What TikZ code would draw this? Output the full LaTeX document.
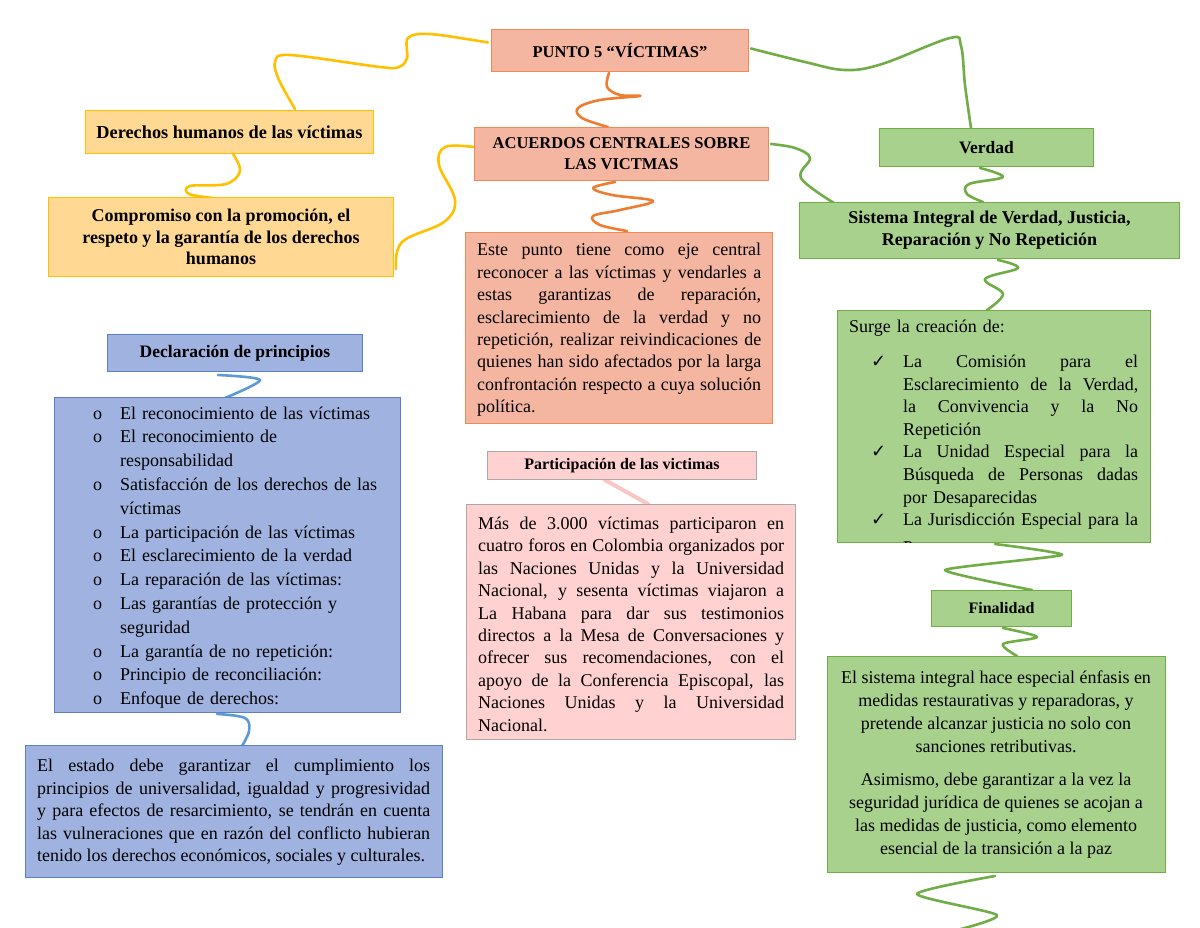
\documentclass[tikz,border=0pt]{standalone}
\usepackage{fontspec}
\setmainfont{Liberation Serif}
\newfontfamily\symf{DejaVu Sans}
\usetikzlibrary{calc}
\definecolor{salm}{HTML}{F4B6A0}
\definecolor{salmd}{HTML}{F08A55}
\definecolor{yel}{HTML}{FFD993}
\definecolor{yeld}{HTML}{FFC000}
\definecolor{grn}{HTML}{A9D18E}
\definecolor{grnd}{HTML}{70AD47}
\definecolor{blu}{HTML}{A0B2DF}
\definecolor{blud}{HTML}{5B80C8}
\definecolor{pnk}{HTML}{FFD1D1}
\definecolor{pnkd}{HTML}{A9A9A9}
\definecolor{pnkl}{HTML}{F9C6C6}
\definecolor{oran}{HTML}{ED7D31}
\definecolor{bluc}{HTML}{5B9BD5}
\newcommand\ns{\spaceskip=0pt\xspaceskip=0pt\relax}
\newcommand\jl[1]{{\ns\makebox[\hsize][s]{#1}}}
\newcommand\bfnt[2]{\fontsize{#1}{#2}\selectfont\bfseries}
\newcommand\bdy[1]{\fontsize{18}{#1}\selectfont}
\newcommand\itm{\makebox[27pt][l]{o}}
\newcommand\ind{\hspace*{27pt}}
\newcommand\ck{\makebox[30pt][l]{\hspace*{-2pt}\symf\fontsize{18}{18}\selectfont ✓}}
\newcommand\sj[1]{{\ns\makebox[235pt][s]{#1}}}
\pgfdeclarelayer{bg}
\pgfsetlayers{bg,main}
\begin{document}
\begin{tikzpicture}[x=1pt,y=-1pt,
  xbox/.style={draw, line width=1pt, inner sep=1pt, anchor=north west, align=center, text=black},
  sbox/.style={xbox, fill=salm, draw=salmd},
  ybox/.style={xbox, fill=yel, draw=yeld},
  gbox/.style={xbox, fill=grn, draw=grnd},
  bbox/.style={xbox, fill=blu, draw=blud},
  pbox/.style={xbox, fill=pnk, draw=pnkd},
  txt/.style={anchor=north west, inner sep=0pt, align=left},
  con/.style={line width=2.6pt, line cap=round, line join=round},
]
\useasboundingbox (0,0) rectangle (1200,927);

% ---- boxes ----
\node[sbox, minimum width=257pt, minimum height=42pt, font={\bfnt{16.5}{21}}] (punto) at (491,29) {PUNTO 5 “VÍCTIMAS”};
\node[sbox, minimum width=294pt, minimum height=53pt, font={\bfnt{16.5}{21}}] (acuerdos) at (474,127) {ACUERDOS CENTRALES SOBRE\\LAS VICTMAS};
\node[ybox, minimum width=288pt, minimum height=43pt, font={\bfnt{18.3}{22}}] (derechos) at (85,110) {Derechos humanos de las víctimas};
\node[ybox, minimum width=345pt, minimum height=79pt, font={\bfnt{18}{21.5}}] (compromiso) at (48,197) {Compromiso con la promoción, el\\respeto y la garantía de los derechos\\humanos};
\node[gbox, minimum width=214pt, minimum height=38pt, font={\bfnt{17.5}{21}}] (verdad) at (879,128) {Verdad};
\node[gbox, minimum width=380pt, minimum height=56pt, font={\bfnt{18}{22}}] (sistema) at (799,202) {Sistema Integral de Verdad, Justicia,\\Reparación y No Repetición};
\node[bbox, minimum width=255pt, minimum height=37pt, font={\bfnt{17.5}{21}}] (decl) at (107,334) {Declaración de principios};
\node[bbox, minimum width=346pt, minimum height=315pt] (lista) at (54,397) {};
\node[bbox, minimum width=417pt, minimum height=132pt] (estado) at (25,745) {};
\node[sbox, minimum width=307pt, minimum height=191pt] (este) at (465,232) {};
\node[pbox, minimum width=269pt, minimum height=28pt, font={\bfnt{16}{20}}] (partic) at (487,451) {Participación de las victimas};
\node[pbox, minimum width=329pt, minimum height=235pt] (mas) at (466,504) {};
\node[gbox, minimum width=313pt, minimum height=232pt] (surge) at (837,310) {};
\node[gbox, minimum width=140pt, minimum height=36pt, font={\bfnt{16}{20}}] (finalidad) at (931,590) {Finalidad};
\node[gbox, minimum width=338pt, minimum height=216pt] (elsis) at (827,656) {};

% ---- texts ----
\node[txt, text width=300pt, font={\bdy{23.8}}] (listatxt) at (93,402.3) {\strut\itm El reconocimiento de las víctimas\\
\itm El reconocimiento de\\
\ind responsabilidad\\
\itm Satisfacción de los derechos de las\\
\ind víctimas\\
\itm La participación de las víctimas\\
\itm El esclarecimiento de la verdad\\
\itm La reparación de las víctimas:\\
\itm Las garantías de protección y\\
\ind seguridad\\
\itm La garantía de no repetición:\\
\itm Principio de reconciliación:\\
\itm Enfoque de derechos:};

\node[txt, text width=393pt, font={\bdy{22.5}}] (estadotxt) at (37,756) {\ns\strut\jl{El estado debe garantizar el cumplimiento los}\\
\jl{principios de universalidad, igualdad y progresividad}\\
\jl{y para efectos de resarcimiento, se tendrán en cuenta}\\
\jl{las vulneraciones que en razón del conflicto hubieran}\\
tenido los derechos económicos, sociales y culturales.};

\node[txt, text width=284pt, font={\bdy{22.4}}] (estetxt) at (477,240) {\ns\strut\jl{Este punto tiene como eje central}\\
\jl{reconocer a las víctimas y vendarles a}\\
\jl{estas garantizas de reparación,}\\
\jl{esclarecimiento de la verdad y no}\\
\jl{repetición, realizar reivindicaciones de}\\
\jl{quienes han sido afectados por la larga}\\
\jl{confrontación respecto a cuya solución}\\
política.};

\node[txt, text width=306pt, font={\bdy{22.4}}] (mastxt) at (478,513.6) {\ns\strut\jl{Más de 3.000 víctimas participaron en}\\
\jl{cuatro foros en Colombia organizados por}\\
\jl{las Naciones Unidas y la Universidad}\\
\jl{Nacional, y sesenta víctimas viajaron a}\\
\jl{La Habana para dar sus testimonios}\\
\jl{directos a la Mesa de Conversaciones y}\\
\jl{ofrecer sus recomendaciones, con el}\\
\jl{apoyo de la Conferencia Episcopal, las}\\
\jl{Naciones Unidas y la Universidad}\\
Nacional.};

\begin{scope}
\clip (837,310) rectangle (1150,542);
\node[txt, text width=290pt, font={\bdy{22.6}}] (surgetxt) at (849,316.9) {\strut Surge la creación de:\\[12pt]
\hspace*{24pt}\ck\sj{La Comisión para el}\\
\hspace*{54pt}\sj{Esclarecimiento de la Verdad,}\\
\hspace*{54pt}\sj{la Convivencia y la No}\\
\hspace*{54pt}Repetición\\
\hspace*{24pt}\ck\sj{La Unidad Especial para la}\\
\hspace*{54pt}\sj{Búsqueda de Personas dadas}\\
\hspace*{54pt}por Desaparecidas\\
\hspace*{24pt}\ck\sj{La Jurisdicción Especial para la}\\[5pt]
\hspace*{54pt}Paz};
\end{scope}

\node[anchor=north, inner sep=0pt, align=center, font={\bdy{23}}] (elsistxt) at (996,667) {\strut El sistema integral hace especial énfasis en\\
medidas restaurativas y reparadoras, y\\
pretende alcanzar justicia no solo con\\
sanciones retributivas.\\[10pt]
Asimismo, debe garantizar a la vez la\\
seguridad jurídica de quienes se acojan a\\
las medidas de justicia, como elemento\\
esencial de la transición a la paz};

\coordinate (gend) at (957,930);

% ---- connectors ----
\begin{pgfonlayer}{bg}
\fill[white] (0,0) rectangle (1200,927);
\draw[con, yeld] plot[smooth, tension=0.55] coordinates {($(punto.west)+(-3,-8)$) (430,34) (408,38) (407,58) (399,67) (380,67) (290,55) (275,62) (279,80) ($(derechos.north west)+(210,-1)$)};
\draw[con, yeld] plot[smooth, tension=0.6] coordinates {($(derechos.south west)+(148,0)$) (240,171) (226,184) (190,186) (189,194) ($(compromiso.north west)+(165,1)$)};
\draw[con, yeld] plot[smooth, tension=0.6] coordinates {($(acuerdos.west)+(0,-7)$) (445,147) (439,165) (455,200) (444,222) (402,242) ($(compromiso.east)+(2,32)$)};
\draw[con, oran] plot[smooth, tension=0.6] coordinates {($(punto.south west)+(118,1)$) (607,87) (620,95) (640,96) (600,100) (578,108) (582,118) ($(acuerdos.north west)+(134,0)$)};
\draw[con, oran] plot[smooth, tension=0.6] coordinates {($(acuerdos.south west)+(141,1)$) (593,188) (612,195) (653,201) (620,210) (593,216) (600,225) ($(este.north west)+(162,-1)$)};
\draw[con, grnd] plot[smooth, tension=0.6] coordinates {($(punto.east)+(2,-2)$) (805,62) (845,70) (882,64) (950,38) (961,46) (965,85) ($(verdad.north west)+(92,0)$)};
\draw[con, grnd] plot[smooth, tension=0.6] coordinates {($(acuerdos.east)+(2,-10)$) (795,148) (810,158) (801,178) ($(sistema.north west)+(35,1)$)};
\draw[con, grnd] plot[smooth, tension=0.6] coordinates {($(verdad.south west)+(101,1)$) (1003,177) (969,184) (967,194) ($(sistema.north west)+(184,0)$)};
\draw[con, grnd] plot[smooth, tension=0.6] coordinates {($(sistema.south west)+(199,1)$) (1018,268) (985,279) (1003,294) ($(surge.north west)+(150,0)$)};
\draw[con, grnd] plot[smooth, tension=0.3] coordinates {($(surge.south west)+(158,1)$) (1062,555) (945,570) ($(finalidad.north west)+(101,0)$)};
\draw[con, grnd] plot[smooth, tension=0.5] coordinates {($(finalidad.south west)+(72,1)$) (1037,637) (1003,644) ($(elsis.north west)+(190,0)$)};
\draw[con, grnd] plot[smooth, tension=0.4] coordinates {($(elsis.south west)+(168,3)$) (917,894) (997,915) (gend)};
\draw[con, bluc] plot[smooth, tension=0.5] coordinates {($(decl.south west)+(111,3)$) (260,380) ($(lista.north west)+(171,1)$)};
\draw[con, bluc] plot[smooth, tension=0.6] coordinates {($(lista.south west)+(163,1)$) (245,718) (249,731) ($(estado.north west)+(217,1)$)};
\draw[con, pnkl, line width=4pt] ($(partic.south west)+(118,0)$) -- ($(mas.north west)+(182,0)$);
\end{pgfonlayer}
\end{tikzpicture}
\end{document}
